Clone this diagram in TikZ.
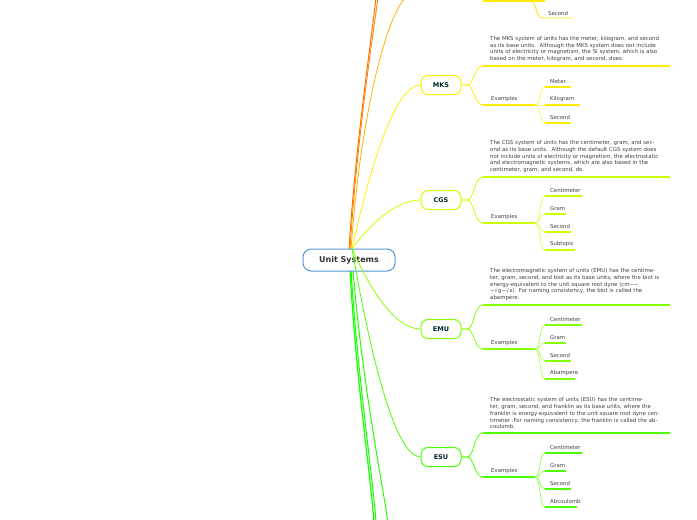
\documentclass[tikz,border=0pt]{standalone}
\usepackage{fontspec}
\setmainfont{DejaVu Sans}
\begin{document}
\begin{tikzpicture}[x=1pt,y=-1pt,
  topic/.style={draw=#1,line width=1pt,rounded corners=7pt,minimum width=40pt,minimum height=19pt,fill=white,font=\bfseries\fontsize{6.5}{7}\selectfont,text=black!70!teal},
  small/.style={font=\fontsize{5.4}{6.7}\selectfont,text=black!75,inner sep=0pt,anchor=south west},
  desc/.style={small,text width=170pt,align=left},
  conn/.style={draw=#1,line width=0.8pt},
  ul/.style={draw=#1,line width=1.1pt}]
\useasboundingbox (0,0) rectangle (697,520);
% main trunk lines
\draw[draw=orange!90!red,line width=1pt] (349,250) .. controls (355,150) and (370,50) .. (376,-2);
\draw[draw=orange,line width=0.8pt] (350,250) .. controls (356,150) and (372,40) .. (378,-2);
\draw[draw=orange!60!yellow,line width=0.8pt] (351,250) .. controls (360,120) and (385,20) .. (405,-2);
\draw[draw=green!90!lime,line width=1.2pt] (350,270) .. controls (356,380) and (370,470) .. (374,522);
\draw[draw=green!90!lime,line width=1pt] (351,270) .. controls (358,380) and (372,470) .. (376,522);
\draw[draw=green!80!lime,line width=1pt] (353,270) .. controls (362,380) and (380,470) .. (388,522);
% top remnant
\coordinate (tE) at (530,0);
\node[small] (tsec) at (548,15.5) {Second};
\draw[conn=yellow!90!orange] (tE) .. controls (536,0) and (536,18) .. (542,18) -- (572,18);
\draw[ul=yellow!90!orange] (483,1) -- (545,1);
% central node
\node[draw=cyan!60!blue!70,line width=1pt,rounded corners=8pt,minimum width=92pt,minimum height=22pt,fill=white,font=\bfseries\fontsize{8}{9}\selectfont,text=black!80] (c) at (349,260) {Unit Systems};
% branches
\foreach \Y/\nm/\col/\dy/\ey/\txt in {
 85/MKS/yellow!95!orange/66/105/{The MKS system of units has the meter, kilogram, and second as its base units.\ \ Although the MKS system does not include units of electricity or magnetism, the SI system, which is also based on the meter, kilogram, and second, does.},
 200/CGS/lime!80!yellow/177/223/{The CGS system of units has the centimeter, gram, and second as its base units.\ \ Although the default CGS system does not include units of electricity or magnetism, the electrostatic and electromagnetic systems, which are also based in the centimeter, gram, and second, do.},
 329/EMU/lime!70!green/305/349/{The electromagnetic system of units (EMU) has the centimeter, gram, second, and biot as its base units, where the biot is energy-equivalent to the unit square root dyne (cm−−\\−√g−√s). For naming consistency, the biot is called the abampere.},
 457/ESU/green!60!lime/433/477/{The electrostatic system of units (ESU) has the centimeter, gram, second, and franklin as its base units, where the franklin is energy-equivalent to the unit square root dyne centimeter .For naming consistency, the franklin is called the abcoulomb.}}{
  \node[topic=\col] (\nm) at (441,\Y) {\nm};
  \draw[conn=\col] (c.north) ++(3,0) .. controls (370,{(\Y+250)/2}) and (395,\Y) .. (\nm.west);
  \coordinate (\nm d) at (483,\dy);
  \coordinate (\nm e) at (483,\ey);
  \draw[conn=\col] (\nm.east) -- ++(6,0) .. controls (474,\Y) and (474,\dy) .. (\nm d);
  \draw[conn=\col] (\nm.east) -- ++(6,0) .. controls (474,\Y) and (474,\ey) .. (\nm e);
  \draw[ul=\col] (\nm d) -- (670,\dy);
  \draw[ul=\col] (\nm e) -- (535,\ey);
  \node[desc] (\nm txt) at (490,\dy-4) {\txt};
  \node[small] (\nm ex) at (491,\ey-3) {Examples};
  \coordinate (\nm s) at (535,\ey);
}
% items
\foreach \nm/\ey/\ya/\yb/\yc/\yd/\la/\lb/\lc/\ld/\wa/\wb/\wc/\wdd/\col in {
 CGS/223/196/214/232/250/Centimeter/Gram/Second/Subtopic/37/21/26/30/lime!80!yellow,
 EMU/349/325/343/361/379/Centimeter/Gram/Second/Abampere/37/21/26/30/lime!70!green,
 ESU/477/453/471/489/507/Centimeter/Gram/Second/Abcoulomb/37/21/26/32/green!60!lime}{
  \foreach \yy/\lab/\ww in {\ya/\la/\wa,\yb/\lb/\wb,\yc/\lc/\wc,\yd/\ld/\wdd}{
    \draw[conn=\col!60] (\nm s) .. controls (541,\ey) and (539,\yy) .. (545,\yy);
    \draw[ul=\col] (545,\yy) -- ++(\ww,0);
    \node[small] at (550,\yy-3) {\lab};
  }
}
\foreach \yy/\lab/\ww in {87/Meter/26,105/Kilogram/35,123/Second/26}{
  \draw[conn=yellow!70] (MKSs) .. controls (541,105) and (539,\yy) .. (545,\yy);
  \draw[ul=yellow!95!orange] (545,\yy) -- ++(\ww,0);
  \node[small] at (550,\yy-3) {\lab};
}
\end{tikzpicture}
\end{document}
